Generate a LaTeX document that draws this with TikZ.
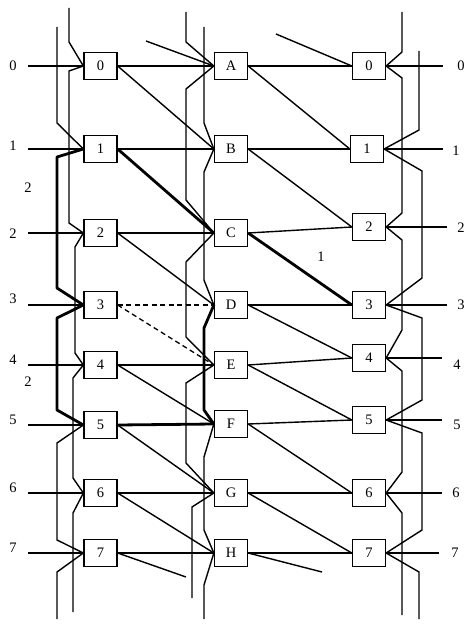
\documentclass[tikz,border=0pt]{standalone}
\usepackage{fontspec}
\setmainfont{Liberation Serif}
\begin{document}
\begin{tikzpicture}[x=1pt,y=-1pt,
  box/.style={draw,line width=1.3pt,minimum width=33pt,minimum height=27pt,inner sep=0pt,font=\fontsize{14.5}{16}\selectfont},
  lab/.style={font=\fontsize{14.5}{16}\selectfont,inner sep=0pt},
  ln/.style={line width=1.4pt},
  thk/.style={line width=2.8pt},
  dsh/.style={line width=1.3pt,dash pattern=on 5pt off 3.5pt}]
\useasboundingbox (0,0) rectangle (474,631);
% boxes
\foreach \i/\y in {0/66,1/149,2/233,3/305,4/365,5/425,6/493,7/553}
  \node[box] (L\i) at (100.5,\y) {\i};
\foreach \i/\n/\y in {0/A/66,1/B/149,2/C/233,3/D/305,4/E/365,5/F/424,6/G/493,7/H/553}
  \node[box] (M\i) at (231,\y) {\n};
\foreach \i/\x/\y in {0/369/66,1/367/149,2/369/227,3/369/305,4/369/358,5/369/420,6/369/493,7/369/553}
  \node[box] (R\i) at (\x,\y) {\i};
% left inputs and labels
\foreach \i/\y/\ly in {0/66/66,1/149/146,2/233/234,4/365/360,5/425/420,6/493/488,7/553/548}{
  \coordinate (in\i) at (28,\y);
  \draw[ln] (in\i) -- (L\i.west);
  \node[lab] (li\i) at (13,\ly) {\i};
}
\coordinate (in3) at (28,305);
\draw[thk] (in3) -- (L3.west);
\node[lab] (li3) at (13,299) {3};
% right outputs and labels
\foreach \i/\e/\lx/\ly in {0/443/461/66,1/443/456/151,2/447/461/228,4/442/457/365,5/442/457/425,6/442/456/493,7/439/455/553}{
  \coordinate (out\i) at (\e,0);
  \draw[ln] (R\i.east) -- (R\i.east -| out\i);
  \node[lab] (ro\i) at (\lx,\ly) {\i};
}
\coordinate (out3) at (447,305);
\draw[thk] (R3.east) -- (out3);
\node[lab] (ro3) at (461,305) {3};
% extra labels
\node[lab] (x1) at (28,188) {2};
\node[lab] (x2) at (28,382) {2};
\node[lab] (x3) at (321,257) {1};
% left to middle
\draw[ln] (L0.east) -- (M0.west);
\draw[ln] (L0.east) -- (M1.west);
\draw[ln] (L1.east) -- (M1.west);
\draw[thk] (L1.east) -- (M2.west);
\draw[ln] (L2.east) -- (M2.west);
\draw[ln] (L2.east) -- (M3.west);
\draw[dsh] (L3.east) -- (M3.west);
\draw[dsh] (L3.east) -- (M4.west);
\draw[ln] (L4.east) -- (M4.west);
\draw[ln] (L4.east) -- (M5.west);
\draw[thk] (L5.east) -- (M5.west);
\draw[ln] (L5.east) -- (M6.west);
\draw[ln] (L6.east) -- (M6.west);
\draw[ln] (L6.east) -- (M7.west);
\draw[ln] (L7.east) -- (M7.west);
\coordinate (sA) at (146,41);
\coordinate (s7) at (186,577);
\draw[ln] (sA) -- (M0.west);
\draw[ln] (L7.east) -- (s7);
% middle to right
\draw[ln] (M0.east) -- (R0.west);
\draw[ln] (M0.east) -- (R1.west);
\draw[ln] (M1.east) -- (R1.west);
\draw[ln] (M1.east) -- (R2.west);
\draw[ln] (M2.east) -- (R2.west);
\draw[thk] (M2.east) -- (R3.west);
\draw[thk] (M3.east) -- (R3.west);
\draw[ln] (M3.east) -- (R4.west);
\draw[ln] (M4.east) -- (R4.west);
\draw[ln] (M4.east) -- (R5.west);
\draw[ln] (M5.east) -- (R5.west);
\draw[ln] (M5.east) -- (R6.west);
\draw[ln] (M6.east) -- (R6.west);
\draw[ln] (M6.east) -- (R7.west);
\draw[ln] (M7.east) -- (R7.west);
\coordinate (sR) at (276,34);
\coordinate (sH) at (322,572);
\draw[ln] (sR) -- (R0.west);
\draw[ln] (M7.east) -- (sH);
% left column routing
\coordinate (tL0) at (69,8);
\coordinate (tL1) at (57,27);
\coordinate (bL6) at (73,612);
\coordinate (bL7) at (57,619);
\draw[ln] (tL0) -- (69,42) -- (L0.west);
\draw[ln] (tL1) -- (57,123) -- (L1.west);
\draw[ln] (L0.west) -- (69,71) -- (69,223) -- (L2.west);
\draw[thk,line join=round] (L1.west) -- (57,157) -- (57,288) -- (L3.west);
\draw[ln] (L2.west) -- (75,247) -- (75,353) -- (L4.west);
\draw[thk,line join=round] (L3.west) -- (57,318) -- (57,410) -- (L5.west);
\draw[ln] (L4.west) -- (73,378) -- (73,478) -- (L6.west);
\draw[ln] (L5.west) -- (57,443) -- (57,540) -- (L7.west);
\draw[ln] (L6.west) -- (73,513) -- (bL6);
\draw[ln] (L7.west) -- (57,572) -- (bL7);
% middle column routing
\coordinate (tM0) at (186,12);
\coordinate (tM1) at (204,27);
\coordinate (bM6) at (192,598);
\coordinate (bM7) at (204,619);
\draw[ln] (tM0) -- (186,42) -- (M0.west);
\draw[ln] (tM1) -- (204,123) -- (M1.west);
\draw[ln] (M0.west) -- (186,89) -- (186,200) -- (M2.west);
\draw[ln] (M1.west) -- (204,172) -- (204,280) -- (M3.west);
\draw[ln] (M2.west) -- (186,262) -- (186,337) -- (M4.west);
\draw[thk,line join=round] (M3.west) -- (204,328) -- (204,410) -- (M5.west);
\draw[ln] (M4.west) -- (186,383) -- (186,463) -- (M6.west);
\draw[ln] (M5.west) -- (204,457) -- (204,530) -- (M7.west);
\draw[ln] (M6.west) -- (192,507) -- (bM6);
\draw[ln] (M7.west) -- (204,585) -- (bM7);
% right column routing
\coordinate (tR0) at (402,12);
\coordinate (tR1) at (419,51);
\coordinate (bR6) at (402,615);
\coordinate (bR7) at (419,619);
\draw[ln] (tR0) -- (402,52) -- (R0.east);
\draw[ln] (tR1) -- (419,130) -- (R1.east);
\draw[ln] (R0.east) -- (402,78) -- (402,213) -- (R2.east);
\draw[ln] (R1.east) -- (422,171) -- (422,278) -- (R3.east);
\draw[ln] (R2.east) -- (402,240) -- (402,330) -- (R4.east);
\draw[ln] (R3.east) -- (422,318) -- (422,400) -- (R5.east);
\draw[ln] (R4.east) -- (402,371) -- (402,472) -- (R6.east);
\draw[ln] (R5.east) -- (422,433) -- (422,530) -- (R7.east);
\draw[ln] (R6.east) -- (402,513) -- (bR6);
\draw[ln] (R7.east) -- (419,572) -- (bR7);
\end{tikzpicture}
\end{document}
